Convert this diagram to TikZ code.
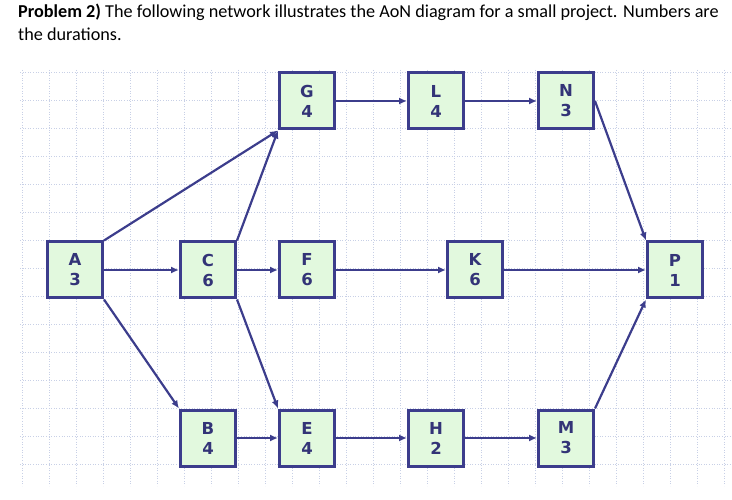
\documentclass[tikz,border=0pt]{standalone}
\usepackage{fontspec}
\setmainfont{Carlito}
\newfontfamily\nodefont{DejaVu Sans}
\usetikzlibrary{arrows.meta}
\definecolor{edge}{HTML}{3C3D8C}
\definecolor{nfill}{HTML}{E2F9DE}
\definecolor{gridc}{HTML}{C8D0E6}
\tikzset{
 act/.style={draw=edge,fill=nfill,line width=3pt,minimum width=55pt,minimum height=56pt,inner sep=0pt,font=\nodefont\bfseries\fontsize{16.5}{20}\selectfont,text=edge!85!black,align=center},
 con/.style={draw=edge,line width=2.2pt,-{Latex[length=8pt,width=7pt]}}
}
\begin{document}
\begin{tikzpicture}[x=1pt,y=-1pt]
\useasboundingbox (0,0) rectangle (732,500);
\foreach \x in {22,49,...,730} \draw[gridc,dotted,line width=0.6pt] (\x,70) -- (\x,486);
\foreach \y in {72,100,...,486} \draw[gridc,dotted,line width=0.6pt] (20,\y) -- (730,\y);
\node[anchor=base west,inner sep=0pt,font=\fontsize{18.2}{24}\selectfont] (t1) at (18,18) {\textbf{Problem 2)} The following network illustrates the AoN diagram for a small project. Numbers are};
\node[anchor=base west,inner sep=0pt,font=\fontsize{18.2}{24}\selectfont] (t2) at (18,41) {the durations.};
\node[act] (A) at (75,270) {A\\3};
\node[act] (C) at (208,270) {C\\6};
\node[act] (G) at (307,101) {G\\4};
\node[act] (L) at (436,101) {L\\4};
\node[act] (N) at (566,101) {N\\3};
\node[act] (F) at (307,270) {F\\6};
\node[act] (K) at (475,270) {K\\6};
\node[act] (P) at (675,270) {P\\1};
\node[act] (B) at (208,438) {B\\4};
\node[act] (E) at (307,438) {E\\4};
\node[act] (H) at (436,438) {H\\2};
\node[act] (M) at (566,438) {M\\3};
\draw[con] (A) -- (C);
\draw[con] (A.north east) -- (G.south west);
\draw[con] (A.south east) -- (B.north west);
\draw[con] (C) -- (F);
\draw[con] (C.north east) -- (G.south west);
\draw[con] (C.south east) -- (E.north west);
\draw[con] (G) -- (L);
\draw[con] (L) -- (N);
\draw[con] (F) -- (K);
\draw[con] (K) -- (P);
\draw[con] (N.east) -- (P.north west);
\draw[con] (M.north east) -- (P.south west);
\draw[con] (B) -- (E);
\draw[con] (E) -- (H);
\draw[con] (H) -- (M);
\end{tikzpicture}
\end{document}
